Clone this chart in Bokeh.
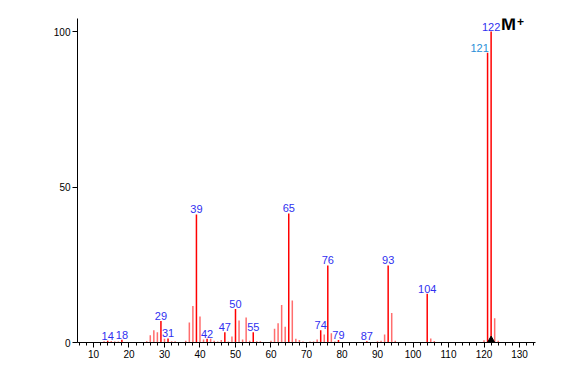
from bokeh.plotting import figure
from bokeh.models import ColumnDataSource, FixedTicker, Range1d, Label
from bokeh.core.properties import value
from bokeh.embed import file_html
from bokeh.resources import INLINE

# m/z values and relative intensities (%)
mz = [13, 14, 15, 16, 17, 18, 25, 26, 27, 28, 29, 30, 31, 32, 33, 36, 37, 38, 39, 40,
      41, 42, 43, 44, 45, 46, 47, 48, 49, 50, 51, 52, 53, 54, 55, 56, 57, 60, 61, 62,
      63, 64, 65, 66, 67, 68, 69, 71, 72, 73, 74, 75, 76, 77, 78, 79, 87, 90, 91, 92,
      93, 94, 95, 104, 105, 106, 120, 121, 122, 123, 124]
intensity = [0.4, 0.6, 0.5, 0.3, 0.3, 0.9, 0.4, 2.3, 3.9, 3.3, 6.9, 1.2, 1.3, 0.4, 0.4, 0.6, 6.4, 11.7, 41.2, 8.4,
             1.0, 1.2, 1.2, 0.6, 0.3, 0.8, 3.3, 0.3, 1.9, 10.8, 7.1, 1.0, 8.0, 0.6, 3.3, 0.4, 0.4, 0.6, 4.4, 6.2,
             12.1, 5.1, 41.5, 13.5, 1.2, 0.8, 0.3, 0.3, 0.3, 1.0, 3.9, 2.6, 24.8, 3.0, 0.3, 0.8, 0.4, 0.4, 0.6, 2.6,
             24.8, 9.5, 0.6, 15.7, 1.3, 0.5, 0.7, 93.2, 100.0, 7.8, 0.6]

# peaks annotated with their m/z
labeled_mz = [14, 18, 29, 31, 39, 42, 47, 50, 55, 65, 74, 76, 79, 87, 93, 104, 121, 122]

x_ticks = [10, 20, 30, 40, 50, 60, 70, 80, 90, 100, 110, 120, 130]
y_ticks = [0, 50, 100]
molecular_ion = 122

FONT = "Liberation Sans"
STRONG = "#ff0000"
WEAK = "#ff6e6e"

colors = [STRONG if m in labeled_mz else WEAK for m in mz]
src = ColumnDataSource(dict(x=mz, y0=[0] * len(mz), y1=intensity, c=colors))

p = figure(width=560, height=362, output_backend="svg", toolbar_location=None,
           x_range=Range1d(5.5, 134.5), y_range=Range1d(0, 104.2),
           min_border_left=77, min_border_right=25, min_border_top=18, min_border_bottom=20)
p.outline_line_color = None
p.xgrid.visible = False
p.ygrid.visible = False
p.background_fill_color = "white"

p.segment(x0="x", y0="y0", x1="x", y1="y1", line_color="c", line_width=1.5, source=src)

# peak labels
lab_x, lab_y, lab_t, lab_c, lab_off = [], [], [], [], []
for m, v in zip(mz, intensity):
    if m in labeled_mz:
        lab_x.append(m)
        lab_y.append(v)
        lab_t.append(str(m))
        lab_c.append("#2a8fd8" if m == 121 else "#3030f0")
        lab_off.append(-8 if m == 121 else 0)
lsrc = ColumnDataSource(dict(x=lab_x, y=lab_y, t=lab_t, c=lab_c, o=lab_off))
p.text(x="x", y="y", text="t", source=lsrc, text_color="c", x_offset="o", y_offset=-1,
       text_align="center", text_baseline="bottom", text_font=value(FONT),
       text_font_size="11px")

mi = intensity[mz.index(molecular_ion)]
# molecular ion marker on the axis
p.scatter(x=[molecular_ion], y=[0], marker="triangle", size=11, color="black")
p.add_layout(Label(x=molecular_ion, y=mi, text="M", x_offset=10, y_offset=-2,
                   text_font=FONT, text_font_size="18px", text_font_style="bold",
                   text_color="black", text_baseline="bottom"))
p.add_layout(Label(x=molecular_ion, y=mi, text="+", x_offset=26, y_offset=6,
                   text_font=FONT, text_font_size="12px", text_font_style="bold",
                   text_color="black", text_baseline="bottom"))

xa = p.xaxis[0]
xa.ticker = FixedTicker(ticks=x_ticks, minor_ticks=list(range(6, 135, 2)))
ya = p.yaxis[0]
ya.ticker = FixedTicker(ticks=y_ticks)
for ax in (xa, ya):
    ax.axis_line_color = "black"
    ax.axis_line_width = 1
    ax.major_tick_line_color = "black"
    ax.major_tick_in = 0
    ax.major_tick_out = 5
    ax.major_label_text_font = FONT
    ax.major_label_text_font_size = "10px"
    ax.major_label_text_color = "black"
    ax.major_label_standoff = 2
xa.minor_tick_in = 0
xa.minor_tick_out = 3
xa.minor_tick_line_color = "black"
ya.minor_tick_line_color = None

open("out.html", "w").write(file_html(p, INLINE))
